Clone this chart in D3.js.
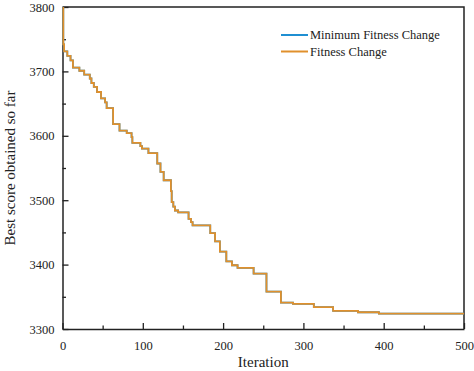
<!DOCTYPE html>
<html>
<head>
<meta charset="utf-8">
<script src="https://cdn.jsdelivr.net/npm/d3@7"></script>
<style>
    body { margin: 0; background: #fff; }
    text { font-family: "Liberation Serif", "Times New Roman", serif; fill: #222; }
</style>
</head>
<body>
<div id="vis"></div>
<script>
'use strict';

// Iteration at which each new best score starts (step data)
const iterations = [0, 1, 2, 6, 10, 13, 21, 27, 34, 36, 39, 43, 48, 53, 55, 63, 71, 80, 86, 87,
    97, 99, 107, 118, 122, 126, 135, 136, 138, 140, 144, 157, 160, 162, 184, 190, 196, 204, 211,
    218, 238, 254, 272, 287, 313, 337, 368, 394, 500];
const bestScores = [3800, 3742, 3731, 3724, 3717, 3706, 3701, 3695, 3689, 3682, 3676, 3668, 3658,
    3652, 3643, 3618, 3608, 3604, 3598, 3589, 3584, 3580, 3573, 3557, 3544, 3531, 3514, 3497, 3490,
    3484, 3481, 3471, 3466, 3461, 3449, 3436, 3420, 3405, 3399, 3395, 3386, 3358, 3341, 3339, 3334,
    3328, 3326, 3324, 3324];

const seriesNames = ["Minimum Fitness Change", "Fitness Change"];
const seriesColors = ["#1f8fd2", "#e0902c"];

const xTicks = [0, 100, 200, 300, 400, 500];
const yTicks = [3300, 3400, 3500, 3600, 3700, 3800];

// Layout of the plot area
const constraints = {
    margin: {left: 62.5, right: 10, top: 7, bottom: 42},
    width: 474,
    height: 371
};
const plotW = constraints.width - constraints.margin.left - constraints.margin.right;
const plotH = constraints.height - constraints.margin.top - constraints.margin.bottom;

let svg = d3.select("#vis").append("svg")
    .attr("width", constraints.width)
    .attr("height", constraints.height);

let vis = svg.append("g")
    .attr("transform", "translate(" + constraints.margin.left + "," + constraints.margin.top + ")");

let x = d3.scaleLinear().domain([0, 500]).range([0, plotW]);
let y = d3.scaleLinear().domain([3300, 3800]).range([plotH, 0]);

// minor ticks sit halfway between the labelled ones
const xMinor = xTicks.slice(0, -1).map((d) => d + 50);
const yMinor = yTicks.slice(0, -1).map((d) => d + 50);

// Axes with inward ticks
function styleAxis(g) {
    g.attr("font-family", null);
    g.select(".domain").attr("stroke", "#222").attr("stroke-width", 1.5);
    g.selectAll(".tick line").attr("stroke", "#222").attr("stroke-width", 1.3);
    g.selectAll(".tick text")
        .style("font-family", "'Liberation Serif', serif")
        .style("font-size", "12.5px")
        .attr("fill", "#222");
}

let xAxis = vis.append("g")
    .attr("transform", "translate(0," + plotH + ")")
    .call(d3.axisBottom(x).tickValues(xTicks).tickFormat(d3.format("d"))
        .tickSize(-6).tickPadding(12).tickSizeOuter(0));
styleAxis(xAxis);
vis.append("g")
    .attr("transform", "translate(0," + plotH + ")")
    .call(d3.axisBottom(x).tickValues(xMinor).tickSize(-3.5).tickFormat(""))
    .call((g) => { g.select(".domain").remove(); styleAxis(g); });

let yAxis = vis.append("g")
    .call(d3.axisLeft(y).tickValues(yTicks).tickFormat(d3.format("d"))
        .tickSize(-6).tickPadding(8).tickSizeOuter(0));
styleAxis(yAxis);
vis.append("g")
    .call(d3.axisLeft(y).tickValues(yMinor).tickSize(-3.5).tickFormat(""))
    .call((g) => { g.select(".domain").remove(); styleAxis(g); });

// top and right frame lines
vis.append("path")
    .attr("d", "M0,0H" + plotW + "V" + plotH)
    .attr("fill", "none")
    .attr("stroke", "#222")
    .attr("stroke-width", 1.5);

// Clip so the line stays inside the frame (it may sit on the left spine)
vis.append("clipPath").attr("id", "clip")
    .append("rect").attr("x", -2).attr("width", plotW + 2).attr("height", plotH);

const points = iterations.map((d, i) => ({it: d, v: bestScores[i]}));
const line = d3.line()
    .x((d) => x(d.it))
    .y((d) => y(d.v))
    .curve(d3.curveStepAfter);

// blue series is drawn first and is hidden under the orange one
seriesColors.forEach((c) => {
    vis.append("path")
        .datum(points)
        .attr("clip-path", "url(#clip)")
        .attr("fill", "none")
        .attr("stroke", c)
        .attr("stroke-width", 1.8)
        .attr("d", line);
});

// Axis titles
svg.append("text")
    .attr("x", constraints.margin.left + plotW / 2)
    .attr("y", 367)
    .attr("text-anchor", "middle")
    .style("font-size", "15px")
    .text("Iteration");
svg.append("text")
    .attr("transform", "translate(15," + (constraints.margin.top + plotH / 2) + ")rotate(-90)")
    .attr("text-anchor", "middle")
    .style("font-size", "15px")
    .text("Best score obtained so far");

// Legend
let legend = svg.append("g").attr("transform", "translate(281,35)");
seriesNames.forEach((name, i) => {
    legend.append("line")
        .attr("x1", 0).attr("x2", 27)
        .attr("y1", i * 16.5).attr("y2", i * 16.5)
        .attr("stroke", seriesColors[i])
        .attr("stroke-width", 2);
    legend.append("text")
        .attr("x", 29)
        .attr("y", i * 16.5)
        .attr("dy", "0.33em")
        .style("font-size", "12.5px")
        .text(name);
});
</script>
</body>
</html>
